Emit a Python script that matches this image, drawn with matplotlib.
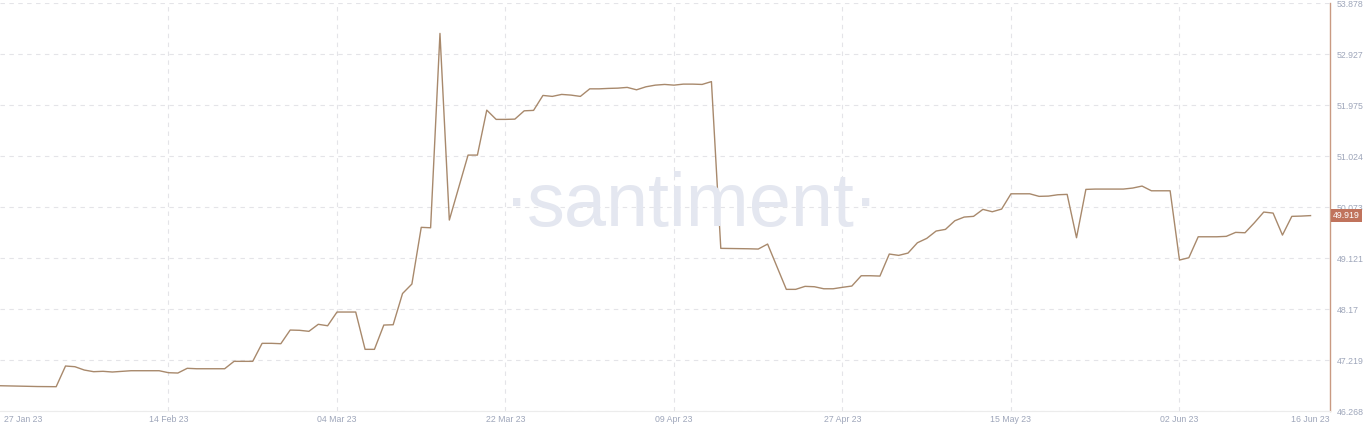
import matplotlib
matplotlib.use("Agg")
import matplotlib.pyplot as plt
import matplotlib.transforms as mtransforms
from matplotlib import font_manager
import pandas as pd

# ---------------- data ----------------
start_date = "2023-01-27"
vals_jan = [46.745, 46.742, 46.738, 46.734, 46.730]
vals_feb = [46.729, 46.727, 47.113, 47.100, 47.038, 47.007, 47.014, 47.001, 47.014, 47.025,
            47.025, 47.025, 47.025, 46.988, 46.982, 47.070, 47.062, 47.062, 47.062, 47.062,
            47.200, 47.200, 47.200, 47.536, 47.536, 47.529, 47.784, 47.779]
vals_mar = [47.760, 47.891, 47.864, 48.120, 48.120, 48.120, 47.424, 47.424, 47.877, 47.883,
            48.465, 48.642, 49.700, 49.692, 53.318, 49.836, 50.442, 51.048, 51.048, 51.887,
            51.714, 51.714, 51.719, 51.874, 51.882, 52.161, 52.143, 52.180, 52.167, 52.143,
            52.284]
vals_apr = [52.284, 52.292, 52.297, 52.311, 52.266, 52.322, 52.353, 52.366, 52.353, 52.372,
            52.372, 52.366, 52.419, 49.308, 49.306, 49.304, 49.300, 49.295, 49.388, 48.968,
            48.543, 48.543, 48.599, 48.592, 48.554, 48.554, 48.581, 48.605, 48.797, 48.797]
vals_may = [48.791, 49.202, 49.177, 49.220, 49.412, 49.494, 49.631, 49.662, 49.823, 49.892,
            49.905, 50.035, 49.991, 50.041, 50.326, 50.326, 50.326, 50.278, 50.283, 50.308,
            50.315, 49.506, 50.408, 50.414, 50.414, 50.414, 50.414, 50.433, 50.470, 50.382,
            50.382]
vals_jun = [50.382, 49.090, 49.133, 49.524, 49.524, 49.524, 49.532, 49.606, 49.599, 49.785,
            49.985, 49.966, 49.556, 49.905, 49.910, 49.919]

y_ticks = [46.268, 47.219, 48.17, 49.121, 50.073, 51.024, 51.975, 52.927, 53.878]
y_tick_labels = ["46.268", "47.219", "48.17", "49.121", "50.073", "51.024", "51.975", "52.927", "53.878"]
x_grid_dates = ["2023-02-14", "2023-03-04", "2023-03-22", "2023-04-09", "2023-04-27",
                "2023-05-15", "2023-06-02"]
x_label_dates = ["2023-01-27"] + x_grid_dates + ["2023-06-16"]
last_value_label = "49.919"

values = vals_jan + vals_feb + vals_mar + vals_apr + vals_may + vals_jun
dates = pd.date_range(start_date, periods=len(values), freq="D")

# ---------------- style ----------------
W, H = 1366, 433
DPI = 100
line_color = "#a8896c"
axis_color = "#c99a82"
tick_color = "#9ea6ba"
grid_color = "#e4e4e8"
badge_color = "#c0735c"
wm_color = "#e4e7f0"

avail = {f.name for f in font_manager.fontManager.ttflist}
small_font = "Liberation Sans Narrow" if "Liberation Sans Narrow" in avail else "Liberation Sans"
wm_font = small_font

fig = plt.figure(figsize=(W / DPI, H / DPI), dpi=DPI)
fig.patch.set_facecolor("white")

ax_left, ax_right = 0.0, 1330 / W
ax_bottom, ax_top = 1 - 411.3 / H, 1 - 3.4 / H
ax = fig.add_axes([ax_left, ax_bottom, ax_right - ax_left, ax_top - ax_bottom])
ax.set_facecolor("white")

# watermark
wm_y = 1 - 226 / H
wm = fig.text(691 / W, wm_y, "santiment", fontsize=60, color=wm_color,
              family=wm_font, ha="center", va="baseline", zorder=0)
fig.canvas.draw()
ext = wm.get_window_extent()
wm.set_fontsize(60 * 328 / ext.width)
for dx in (517, 866):
    fig.text(dx / W, 1 - 204 / H, "\u00b7", fontsize=wm.get_fontsize(), color=wm_color,
             family=wm_font, ha="center", va="center", zorder=0)

ax.plot(dates, values, color=line_color, lw=1.0, zorder=3, solid_joinstyle="round")

x0 = pd.Timestamp(start_date)
ax.set_xlim(x0, x0 + pd.Timedelta(days=1330 / 9.361))
ax.set_ylim(y_ticks[0], y_ticks[-1])
ax.patch.set_alpha(0)

# grid
for d in x_grid_dates:
    ax.axvline(pd.Timestamp(d), color=grid_color, lw=0.8, ls=(0, (4, 4)), zorder=1)
for yv in y_ticks:
    ax.axhline(yv, color=grid_color, lw=0.8, ls=(0, (4, 4)), zorder=1)

# spines
for s in ["top", "left"]:
    ax.spines[s].set_visible(False)
ax.spines["right"].set_color(axis_color)
ax.spines["right"].set_linewidth(1.0)
ax.spines["bottom"].set_color("#ececec")
ax.spines["bottom"].set_linewidth(0.8)

# y ticks on the right
ax.yaxis.tick_right()
ax.set_yticks(y_ticks)
ax.set_yticklabels(y_tick_labels)
ax.tick_params(axis="y", length=0, pad=5, labelsize=6.3, labelcolor=tick_color)
for lab in ax.get_yticklabels():
    lab.set_family(small_font)

# x ticks
ax.set_xticks([pd.Timestamp(d) for d in x_label_dates])
ax.set_xticklabels([pd.Timestamp(d).strftime("%d %b %y") for d in x_label_dates])
ax.tick_params(axis="x", length=0, pad=3, labelsize=6.3, labelcolor=tick_color)
xl = ax.get_xticklabels()
for lab in xl:
    lab.set_family(small_font)
xl[0].set_ha("left")
xl[0].set_transform(xl[0].get_transform() + mtransforms.ScaledTranslation(4 / DPI, 0, fig.dpi_scale_trans))

# last value badge
ax.annotate(last_value_label, xy=(1.0, values[-1]), xycoords=("axes fraction", "data"),
            xytext=(3, 0), textcoords="offset pixels", ha="left", va="center",
            fontsize=6.3, family=small_font, color="white", zorder=6,
            bbox=dict(boxstyle="square,pad=0.25", fc=badge_color, ec="none"),
            annotation_clip=False)

fig.savefig("out.png", dpi=DPI, facecolor="white")
